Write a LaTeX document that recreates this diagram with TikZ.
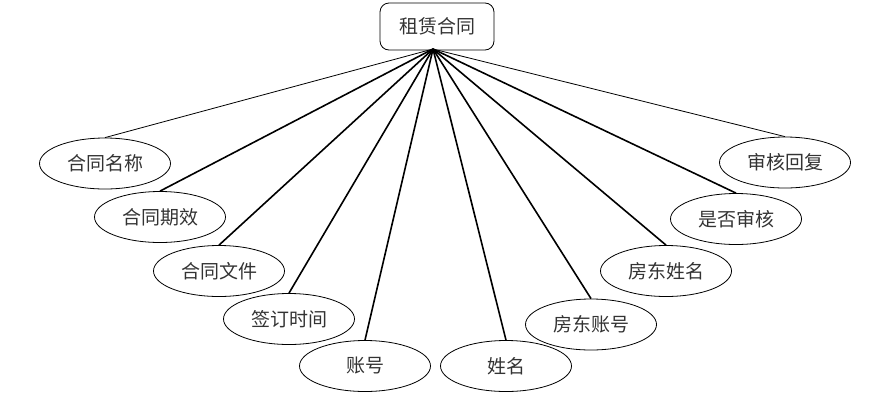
\documentclass[tikz,border=0pt]{standalone}
\usepackage{fontspec}
\newfontfamily\cjk{Noto Sans CJK SC}
\usetikzlibrary{shapes.geometric}
\begin{document}
\begin{tikzpicture}[x=1pt,y=-1pt,
  attr/.style={draw,ellipse,minimum width=131pt,minimum height=51pt,inner sep=0pt,font=\cjk\fontsize{19}{22}\selectfont,text=black!80,line width=0.8pt},
  ent/.style={draw,rounded corners=9pt,minimum width=114pt,minimum height=47pt,inner sep=0pt,font=\cjk\fontsize{19}{22}\selectfont,text=black!80,line width=0.8pt},
  thin/.style={line width=0.8pt},
  thick2/.style={line width=1.6pt}]
\useasboundingbox (0,0) rectangle (896,410);
\node[ent] (top) at (437,26.5) {租赁合同};
\coordinate (hub) at (433,49);
\node[attr] (a1) at (105,163.5) {合同名称};
\node[attr] (a2) at (160,217) {合同期效};
\node[attr] (a3) at (219,271) {合同文件};
\node[attr] (a4) at (289,319) {签订时间};
\node[attr] (a5) at (365,366) {账号};
\node[attr] (a6) at (506,366) {姓名};
\node[attr] (a7) at (591,324.5) {房东账号};
\node[attr] (a8) at (666,271) {房东姓名};
\node[attr] (a9) at (736,219) {是否审核};
\node[attr] (a10) at (785,162.5) {审核回复};
\draw[thin] (hub) -- (a1.north);
\draw[thick2] (hub) -- (a2.north);
\draw[thick2] (hub) -- (a3.north);
\draw[thick2] (hub) -- (a4.north);
\draw[thick2] (hub) -- (a5.north);
\draw[thick2] (hub) -- (a6.north);
\draw[thick2] (hub) -- (a7.north);
\draw[thick2] (hub) -- (a8.north);
\draw[thick2] (hub) -- (a9.north);
\draw[thin] (hub) -- (a10.north);
\end{tikzpicture}
\end{document}
